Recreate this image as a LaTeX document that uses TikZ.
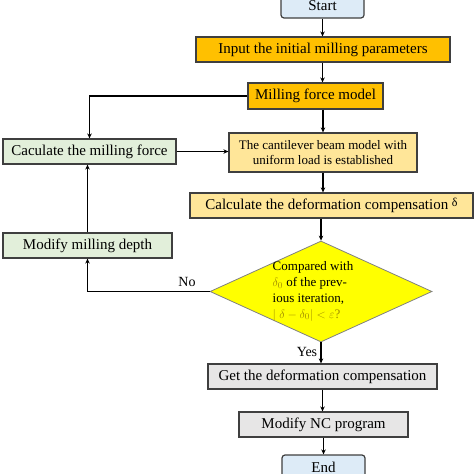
\documentclass[tikz,border=0pt]{standalone}
\usepackage{fontspec}
\setmainfont{Liberation Serif}
\usetikzlibrary{arrows.meta,shapes.geometric}
\definecolor{bord}{HTML}{3F3F3F}
\definecolor{cblue}{HTML}{DDEBF7}
\definecolor{corange}{HTML}{FFC000}
\definecolor{clorange}{HTML}{FFE699}
\definecolor{cgreen}{HTML}{E2EFDA}
\definecolor{cgray}{HTML}{E7E6E6}
\definecolor{cyellow}{HTML}{FFFF00}
\definecolor{colive}{HTML}{A08C00}
\tikzset{
  box/.style={draw=bord, line width=1.2pt, inner sep=1pt, font=\fontsize{15}{17}\selectfont, align=center},
  term/.style={box, fill=cblue, rounded corners=3pt},
  arr/.style={line width=1.2pt, -{Stealth[length=5pt,width=4.5pt]}},
  lbl/.style={font=\fontsize{14}{16}\selectfont},
}
\begin{document}
\begin{tikzpicture}[x=1pt,y=-1pt]
\useasboundingbox (0,0) rectangle (474,474);
\node[term, minimum width=83, minimum height=24] (start) at (322.5,6) {Start};
\node[box, fill=corange, minimum width=254, minimum height=25] (input) at (323,49.5) {Input the initial milling parameters};
\node[box, fill=corange, minimum width=135, minimum height=26] (mill) at (315.5,96) {Milling force model};
\node[box, fill=cgreen, minimum width=173, minimum height=25] (calc) at (89.5,151.5) {Caculate the milling force};
\node[box, fill=clorange, minimum width=188, minimum height=39, font=\fontsize{13}{15.5}\selectfont] (cant) at (323,152.5) {The cantilever beam model with\\uniform load is established};
\node[box, fill=clorange, minimum width=283, minimum height=25] (cdef) at (331.5,205.5) {Calculate the deformation compensation \raisebox{2.5pt}{\fontsize{12}{12}\selectfont δ}};
\node[diamond, draw=gray, line width=0.8pt, fill=cyellow, inner sep=0pt, minimum width=222, minimum height=101] (dia) at (321,291.5) {};
\node[align=left, inner sep=0pt, font=\fontsize{13}{15.7}\selectfont] (dtext) at (313,291.5) {Compared with\\ \textcolor{colive}{$\delta_0$} of the prev-\\ious iteration,\\ \textcolor{colive}{$|\;\delta - \delta_0| < \varepsilon$?}};
\node[box, fill=cgreen, minimum width=169, minimum height=25] (mod) at (87.5,245.5) {Modify milling depth};
\node[box, fill=cgray, minimum width=229, minimum height=25] (get) at (322.5,376.5) {Get the deformation compensation};
\node[box, fill=cgray, minimum width=169, minimum height=25] (nc) at (323.5,424.5) {Modify NC program};
\node[term, minimum width=83, minimum height=24] (end) at (323.5,467) {End};

\draw[arr] (start.south) -- (start.south |- input.north);
\draw[arr] (start.south |- input.south) -- (start.south |- mill.north);
\draw[arr] (mill.west) -| (calc.north);
\draw[arr] (cant.north |- mill.south) -- (cant.north);
\draw[arr] (calc.east) -- (calc.east -| cant.west);
\draw[arr] (cant.south) -- (cant.south |- cdef.north);
\draw[arr] (dia.north |- cdef.south) -- (dia.north);
\draw[arr] (dia.west) -| (mod.south);
\node[lbl] (no) at (187,282) {No};
\draw[arr] (mod.north) -- (mod.north |- calc.south);
\draw[arr] (dia.south) -- (dia.south |- get.north);
\node[lbl] (yes) at (307,352) {Yes};
\draw[arr] (get.south) -- (get.south |- nc.north);
\draw[arr] (nc.south) -- (nc.south |- end.north);
\end{tikzpicture}
\end{document}
